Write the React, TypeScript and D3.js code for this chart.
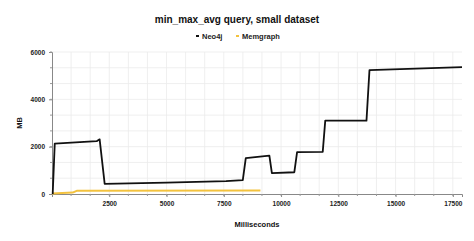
import React, { useEffect, useRef } from 'react';
import * as d3 from 'd3';

type Pt = { t: number; mb: number };

const neo4jSeries: Pt[] = [
  { t: 30, mb: 0 },
  { t: 120, mb: 2130 },
  { t: 1950, mb: 2230 },
  { t: 2080, mb: 2310 },
  { t: 2300, mb: 430 },
  { t: 5000, mb: 480 },
  { t: 7600, mb: 540 },
  { t: 8330, mb: 590 },
  { t: 8460, mb: 1520 },
  { t: 9490, mb: 1620 },
  { t: 9600, mb: 880 },
  { t: 10580, mb: 920 },
  { t: 10700, mb: 1770 },
  { t: 11820, mb: 1780 },
  { t: 11930, mb: 3100 },
  { t: 13730, mb: 3100 },
  { t: 13860, mb: 5230 },
  { t: 17900, mb: 5360 },
];

const memgraphSeries: Pt[] = [
  { t: 0, mb: 20 },
  { t: 900, mb: 60 },
  { t: 1100, mb: 140 },
  { t: 9100, mb: 150 },
];

const xTicks = [2500, 5000, 7500, 10000, 12500, 15000, 17500];
const yTicks = [0, 2000, 4000, 6000];

const FONT = '"Liberation Sans", Arial, sans-serif';

const App: React.FC = () => {
  const svgRef = useRef<SVGSVGElement>(null);

  useEffect(() => {
    if (!svgRef.current) return;
    const width = 474;
    const height = 241;
    const margin = { top: 52, right: 12, bottom: 47, left: 52 };
    const innerW = width - margin.left - margin.right;
    const innerH = height - margin.top - margin.bottom;

    const svg = d3.select(svgRef.current).html('');
    svg.append('rect').attr('width', width).attr('height', height).attr('fill', '#fff');

    const g = svg.append('g').attr('transform', `translate(${margin.left},${margin.top})`);

    const x = d3.scaleLinear().domain([0, 17900]).range([0, innerW]);
    const y = d3.scaleLinear().domain([0, 6000]).range([innerH, 0]);

    // grid, 3 minor steps per major one
    const xGrid = d3.range(2500 / 3, 17900, 2500 / 3);
    const yGrid = d3.range(2000 / 3, 6001, 2000 / 3);
    g.append('g').selectAll('line').data(xGrid).join('line')
      .attr('x1', d => x(d)).attr('x2', d => x(d))
      .attr('y1', 0).attr('y2', innerH)
      .attr('stroke', '#ebebeb').attr('stroke-width', 0.8);
    g.append('g').selectAll('line').data(yGrid).join('line')
      .attr('x1', 0).attr('x2', innerW)
      .attr('y1', d => y(d)).attr('y2', d => y(d))
      .attr('stroke', '#ebebeb').attr('stroke-width', 0.8);

    // axes
    const xAxis = g.append('g').attr('transform', `translate(0,${innerH})`)
      .call(d3.axisBottom(x).tickValues(xTicks).tickSize(3).tickPadding(4).tickFormat(d => `${d}`));
    xAxis.select('.domain').attr('stroke', '#888');
    xAxis.selectAll('.tick line').attr('stroke', '#888');
    g.append('g').attr('transform', `translate(0,${innerH})`).selectAll('line')
      .data(xGrid).join('line')
      .attr('x1', d => x(d)).attr('x2', d => x(d)).attr('y1', 0).attr('y2', 2)
      .attr('stroke', '#999');

    const yAxis = g.append('g')
      .call(d3.axisLeft(y).tickValues(yTicks).tickSize(3).tickPadding(4).tickFormat(d => `${d}`));
    yAxis.select('.domain').attr('stroke', '#888');
    yAxis.selectAll('.tick line').attr('stroke', '#888');
    g.append('g').selectAll('line').data(yGrid).join('line')
      .attr('x1', -2).attr('x2', 0).attr('y1', d => y(d)).attr('y2', d => y(d))
      .attr('stroke', '#999');

    svg.selectAll('.tick text')
      .attr('font-family', FONT).attr('font-size', 6.5).attr('font-weight', 'bold').attr('fill', '#222');

    const line = d3.line<Pt>().x(d => x(d.t)).y(d => y(d.mb));

    g.append('path').datum(memgraphSeries)
      .attr('fill', 'none').attr('stroke', '#f3c23e').attr('stroke-width', 2)
      .attr('stroke-linejoin', 'round').attr('d', line);
    g.append('path').datum(neo4jSeries)
      .attr('fill', 'none').attr('stroke', '#111').attr('stroke-width', 1.8)
      .attr('stroke-linejoin', 'round').attr('d', line);

    // title
    svg.append('text')
      .attr('x', width / 2).attr('y', 22.5).attr('text-anchor', 'middle')
      .attr('font-family', FONT).attr('font-size', 10).attr('font-weight', 'bold').attr('fill', '#111')
      .text('min_max_avg query, small dataset');

    // legend
    const legend = [
      { name: 'Neo4j', color: '#111', x: 196 },
      { name: 'Memgraph', color: '#f3c23e', x: 236 },
    ];
    const lg = svg.append('g');
    legend.forEach(l => {
      lg.append('line').attr('x1', l.x).attr('x2', l.x + 3).attr('y1', 36).attr('y2', 36)
        .attr('stroke', l.color).attr('stroke-width', 2);
      lg.append('text').attr('x', l.x + 6).attr('y', 38.5)
        .attr('font-family', FONT).attr('font-size', 7.5).attr('font-weight', 'bold').attr('fill', '#222')
        .text(l.name);
    });

    // axis labels
    svg.append('text')
      .attr('x', margin.left + innerW / 2).attr('y', 227).attr('text-anchor', 'middle')
      .attr('font-family', FONT).attr('font-size', 7.5).attr('font-weight', 'bold').attr('fill', '#111')
      .text('Milliseconds');
    svg.append('text')
      .attr('transform', `translate(22,${margin.top + innerH / 2}) rotate(-90)`)
      .attr('text-anchor', 'middle')
      .attr('font-family', FONT).attr('font-size', 7.5).attr('font-weight', 'bold').attr('fill', '#111')
      .text('MB');
  }, []);

  return <svg ref={svgRef} width={474} height={241} style={{ position: 'absolute', left: 0, top: 0 }} />;
};

export default App;
